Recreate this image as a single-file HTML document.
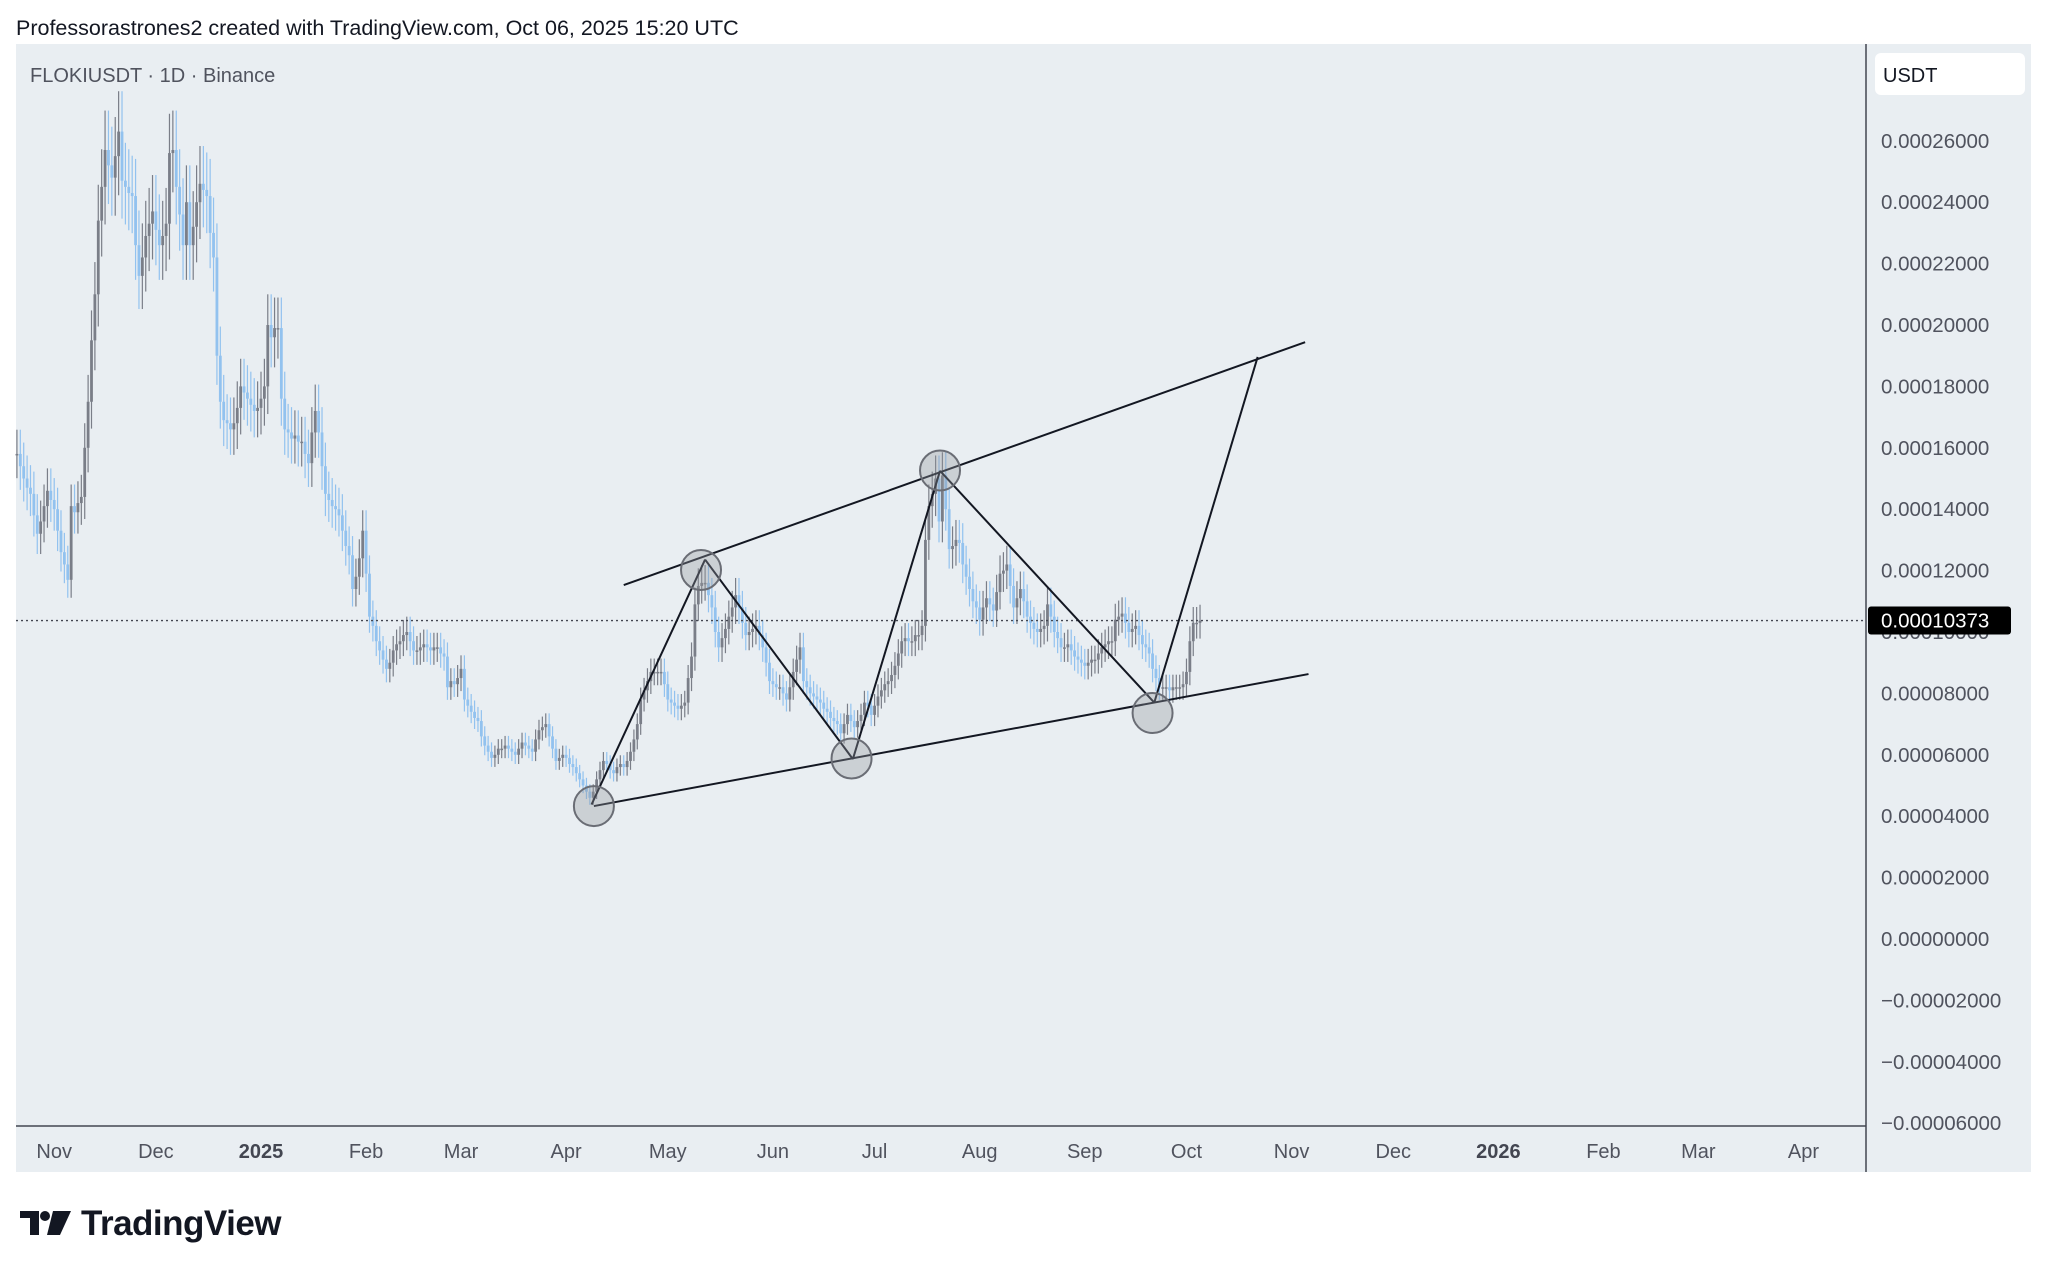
<!DOCTYPE html>
<html><head><meta charset="utf-8">
<style>
html,body{margin:0;padding:0;background:#fff;}
body{width:2048px;height:1275px;position:relative;overflow:hidden;font-family:"Liberation Sans",sans-serif;}
.t{position:absolute;white-space:nowrap;}
</style></head>
<body>
<div class="t" style="left:16px;top:16px;font-size:21.5px;color:#131722;">Professorastrones2 created with TradingView.com, Oct 06, 2025 15:20 UTC</div>
<svg id="chart" width="2048" height="1275" style="position:absolute;left:0;top:0" xmlns="http://www.w3.org/2000/svg">
<rect x="16" y="44" width="2015" height="1128" fill="#e9eef2"/>
<g id="candles"></g>
<g id="drawings"></g>
<line x1="16" y1="1126" x2="1866" y2="1126" stroke="#434651" stroke-width="1.5"/>
<line x1="1866" y1="44" x2="1866" y2="1172" stroke="#434651" stroke-width="1.5"/>
<g id="yticks"></g>
<g id="xticks"></g>
<rect x="1875" y="53" width="150" height="42" rx="6" fill="#fff"/>
<text x="1883" y="82" font-size="20" fill="#131722">USDT</text>
<text x="30" y="82" font-size="20" fill="#50535e">FLOKIUSDT · 1D · Binance</text>
<g fill="#131722">
<rect x="20" y="1211" width="19" height="7"/>
<rect x="30" y="1211" width="9" height="24"/>
<circle cx="45" cy="1216" r="5"/>
<polygon points="53,1211 71,1211 60,1235 47,1235"/>
<text x="81" y="1235" font-size="35" font-weight="bold" letter-spacing="-0.5">TradingView</text>
</g>
</svg>
<script>
// daily closes in units of 1e-6 USDT, first candle at startDay (days since 2025-01-01); rows of 10 days
const startDay=-72;
const closes=[
158,154,150,147,145,138,132,136,141,146,
143,140,133,126,122,117,141,139,142,144,
160,175,195,210,234,245,257,252,248,255,
263,247,245,243,242,226,216,222,229,233,
237,231,226,229,233,256,257,245,236,226,
240,226,232,240,246,244,242,230,222,190,
175,169,168,166,168,173,180,178,176,174,
172,173,176,180,200,196,199,199,176,166,
165,163,164,162,162,158,155,165,172,165,
154,145,143,141,140,138,133,128,125,114,
118,124,133,119,105,102,97,94,91,88,
90,94,96,97,99,100,97,94,94,95,
96,95,94,95,95,93,92,82,84,83,
85,88,78,76,74,72,71,66,63,61,
59,60,62,62,63,62,61,60,62,64,
63,62,61,65,68,69,70,66,62,58,
59,60,59,57,56,54,52,50,48,46,
48,52,55,58,57,55,54,56,57,56,
58,61,65,70,78,81,84,87,87,87,
87,83,78,77,76,75,76,77,85,92,
109,115,116,116,112,108,100,95,98,101,
105,108,112,108,103,99,100,101,102,99,
95,90,84,83,82,82,80,78,82,87,
91,95,84,82,80,79,78,77,75,74,
72,71,70,67,70,73,71,69,71,73,
77,76,73,76,79,81,83,84,86,89,
93,97,98,97,97,99,99,102,130,141,
145,150,136,151,140,127,128,130,129,122,
118,114,110,108,104,108,111,109,107,113,
119,120,122,115,108,111,114,110,105,103,
101,100,101,102,109,105,100,98,95,95,
96,94,92,91,90,89,90,91,91,93,
95,96,97,97,104,105,106,103,100,101,
102,99,96,95,93,88,85,82,82,82,
81,82,82,82,83,87,97,103,103,103.7];
const priceTicks=[260,240,220,200,180,160,140,120,100,80,60,40,20,0,-20,-40,-60];
const tickLabels=["0.00026000","0.00024000","0.00022000","0.00020000","0.00018000","0.00016000","0.00014000","0.00012000","0.00010000","0.00008000","0.00006000","0.00004000","0.00002000","0.00000000","\u22120.00002000","\u22120.00004000","\u22120.00006000"];
const monthLabels=["Nov","Dec","2025","Feb","Mar","Apr","May","Jun","Jul","Aug","Sep","Oct","Nov","Dec","2026","Feb","Mar","Apr"];
const monthDays=[-61,-31,0,31,59,90,120,151,181,212,243,273,304,334,365,396,424,455];
const lastPrice=103.73;
// drawing anchor points: [day, price]
const zigzag=[[97.5,43.8],[131,123.6],[174.6,58.6],[200.3,152.5],[263.5,77],[294,189.6]];
const circles=[[98.2,43.3],[129.8,120.2],[174.2,58.8],[200.3,152.6],[263,73.6]];
const upperLine=[[107,115.3],[308,194.4]];
const lowerLine=[[98.2,43.3],[309,86.3]];

const NS="http://www.w3.org/2000/svg";
const X=d=>261+d*3.39;
const Y=v=>939-v*3.07;
function mk(tag,attrs,parent){const e=document.createElementNS(NS,tag);for(const k in attrs)e.setAttribute(k,attrs[k]);parent.appendChild(e);return e;}
const cg=document.getElementById('candles');
for(let i=0;i<closes.length;i++){
  const d=startDay+i;
  const c=closes[i], o=i>0?closes[i-1]:c;
  const hi=Math.max(o,c)*1.05, lo=Math.min(o,c)*0.95;
  const up=c>=o; const col=up?"#7a7e88":"#92c2ef";
  const x=X(d);
  const w=mk('line',{x1:x,x2:x,y1:Y(hi),y2:Y(lo),stroke:col,'stroke-width':1.2},cg);
  
  
  const top=Y(Math.max(o,c)), bot=Y(Math.min(o,c));
  const b=mk('rect',{x:x-1.4,y:top,width:2.8,height:Math.max(1.5,bot-top),fill:col},cg);
  
  
}
const dg=document.getElementById('drawings');
const pl=mk('line',{x1:16,x2:1866,y1:Y(lastPrice),y2:Y(lastPrice),stroke:"#434651",'stroke-width':1.3,'stroke-dasharray':'2 3'},dg);


function seg(a,b,name){const l=mk('line',{x1:X(a[0]),y1:Y(a[1]),x2:X(b[0]),y2:Y(b[1]),stroke:"#131722",'stroke-width':2},dg);
  
  }
seg(upperLine[0],upperLine[1],'upper-trendline');
seg(lowerLine[0],lowerLine[1],'lower-trendline');
for(let i=0;i<zigzag.length-1;i++)seg(zigzag[i],zigzag[i+1],'zigzag-leg');
circles.forEach(p=>{const c=mk('circle',{cx:X(p[0]),cy:Y(p[1]),r:20,fill:"rgba(150,152,158,0.35)",stroke:"#6a6d75",'stroke-width':2},dg);
  
  });
const yg=document.getElementById('yticks');
priceTicks.forEach((v,i)=>{const t=mk('text',{x:1881,y:Y(v)+7,'font-size':20.5,fill:"#50535e"},yg);t.textContent=tickLabels[i];
  
  });
const lb=mk('rect',{x:1868,y:Y(lastPrice)-14,width:143,height:28,rx:3,fill:"#000"},yg);


const lt=mk('text',{x:1881,y:Y(lastPrice)+7,'font-size':20.5,fill:"#fff"},yg);lt.textContent="0.00010373";


const xg=document.getElementById('xticks');
monthLabels.forEach((m,i)=>{const bold=/^\d{4}$/.test(m);const t=mk('text',{x:X(monthDays[i]),y:1158,'font-size':20,fill:bold?"#434651":"#50535e",'font-weight':bold?'bold':'normal','text-anchor':'middle'},xg);t.textContent=m;
  
  });
</script>
</body></html>
